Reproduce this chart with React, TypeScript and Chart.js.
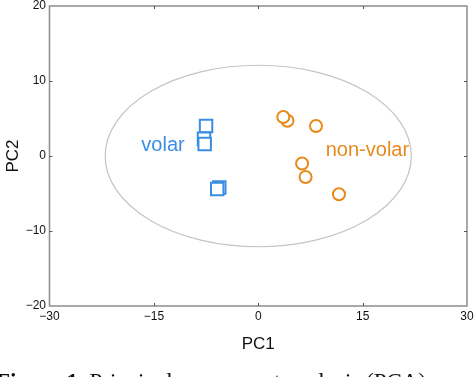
import React, { useEffect, useRef } from "react";
import { Chart, registerables } from "chart.js";

Chart.register(...registerables);

// Scores
const volarX = [-7.5, -7.8, -7.7, -5.6, -5.9];
const volarY = [4.0, 2.3, 1.6, -4.2, -4.4];
const nonVolarX = [4.2, 3.6, 8.3, 6.8, 6.3, 11.6];
const nonVolarY = [4.7, 5.2, 4.0, -2.8, -1.0, -5.1];

const xTicks = [-30, -15, 0, 15, 30];
const yTicks = [-20, -10, 0, 10, 20];

// Confidence ellipse (data units)
const ellipseCenter = [0, 0];
const ellipseRadii = [22, 12.1];

// Group labels (data coordinates of text start / baseline)
const groupLabels = [
  { text: "volar", x: -16.8, y: 0.7, color: "#3b8de3" },
  { text: "non-volar", x: 9.7, y: 0.0, color: "#e8891c" },
];

const BLUE = "#3b8de3";
const ORANGE = "#e8891c";

const fmt = (v: number) => String(v).replace("-", "\u2212");

const decorPlugin = {
  id: "decor",
  beforeDatasetsDraw(chart: any) {
    const { ctx, scales } = chart;
    const xs = scales.x, ys = scales.y;
    const cx = xs.getPixelForValue(ellipseCenter[0]);
    const cy = ys.getPixelForValue(ellipseCenter[1]);
    const rx = Math.abs(xs.getPixelForValue(ellipseCenter[0] + ellipseRadii[0]) - cx);
    const ry = Math.abs(ys.getPixelForValue(ellipseCenter[1] + ellipseRadii[1]) - cy);
    ctx.save();
    ctx.beginPath();
    ctx.ellipse(cx, cy, rx, ry, 0, 0, Math.PI * 2);
    ctx.strokeStyle = "#c4c4c4";
    ctx.lineWidth = 1.2;
    ctx.stroke();
    ctx.restore();
  },
  afterDatasetsDraw(chart: any) {
    const { ctx, scales, chartArea } = chart;
    const xs = scales.x, ys = scales.y;
    ctx.save();
    ctx.font = '20px "Liberation Sans", Arial, sans-serif';
    ctx.textBaseline = "alphabetic";
    ctx.textAlign = "left";
    for (const l of groupLabels) {
      ctx.fillStyle = l.color;
      ctx.fillText(l.text, xs.getPixelForValue(l.x), ys.getPixelForValue(l.y));
    }
    // frame
    const { left, right, top, bottom } = chartArea;
    ctx.strokeStyle = "#8c8c8c";
    ctx.lineWidth = 1.5;
    ctx.strokeRect(left, top, right - left, bottom - top);
    // inner tick marks
    ctx.strokeStyle = "#555";
    ctx.lineWidth = 1;
    const len = 3;
    ctx.beginPath();
    for (const v of xTicks.slice(1, -1)) {
      const px = Math.round(xs.getPixelForValue(v)) + 0.5;
      ctx.moveTo(px, bottom);
      ctx.lineTo(px, bottom - len);
      ctx.moveTo(px, top);
      ctx.lineTo(px, top + len);
    }
    for (const v of yTicks.slice(1, -1)) {
      const py = Math.round(ys.getPixelForValue(v)) + 0.5;
      ctx.moveTo(left, py);
      ctx.lineTo(left + len, py);
      ctx.moveTo(right, py);
      ctx.lineTo(right - len, py);
    }
    ctx.stroke();
    ctx.restore();
  },
};

export default function App() {
  const ref = useRef<HTMLCanvasElement>(null);
  useEffect(() => {
    if (!ref.current) return;
    const tickFont = { family: '"Liberation Sans", Arial, sans-serif', size: 12, lineHeight: 1 };
    const titleFont = { family: '"Liberation Sans", Arial, sans-serif', size: 17 };
    const chart = new Chart(ref.current, {
      type: "scatter",
      data: {
        datasets: [
          {
            label: "volar",
            data: volarX.map((x, i) => ({ x, y: volarY[i] })),
            pointStyle: "rect",
            pointRadius: 8.8,
            borderColor: BLUE,
            backgroundColor: "#ffffff",
            borderWidth: 2,
          },
          {
            label: "non-volar",
            data: nonVolarX.map((x, i) => ({ x, y: nonVolarY[i] })),
            pointStyle: "circle",
            pointRadius: 6,
            borderColor: ORANGE,
            backgroundColor: "#ffffff",
            borderWidth: 2,
          },
        ],
      },
      options: {
        animation: false,
        responsive: false,
        layout: { autoPadding: false, padding: { left: 0, right: 7, top: 6, bottom: 0 } },
        plugins: { legend: { display: false }, tooltip: { enabled: false } },
        scales: {
          x: {
            type: "linear",
            min: -30,
            max: 30,
            border: { display: false },
            grid: { display: false, drawTicks: false },
            afterBuildTicks: (s: any) => { s.ticks = xTicks.map((v) => ({ value: v })); },
            afterFit: (s: any) => { s.height = 71; s.paddingLeft = 0; s.paddingRight = 0; },
            ticks: { font: tickFont, color: "#111", padding: 4.5, maxRotation: 0, callback: (v: any) => fmt(v) },
            title: { display: true, text: "PC1", font: titleFont, color: "#111", padding: { top: 0, bottom: 22 } },
          },
          y: {
            type: "linear",
            min: -20,
            max: 20,
            border: { display: false },
            grid: { display: false, drawTicks: false },
            afterBuildTicks: (s: any) => { s.ticks = yTicks.map((v) => ({ value: v })); },
            afterFit: (s: any) => { s.width = 49.5; s.paddingTop = 0; s.paddingBottom = 0; },
            ticks: { font: tickFont, color: "#111", padding: 3.5, callback: (v: any) => fmt(v) },
            title: { display: true, text: "PC2", font: titleFont, color: "#111", padding: { top: 3.5, bottom: 0 } },
          },
        },
      },
      plugins: [decorPlugin],
    } as any);
    return () => chart.destroy();
  }, []);
  return (
    <div style={{ position: "fixed", left: 0, top: 0, width: 474, height: 377, overflow: "hidden", background: "#fff" }}>
      <canvas ref={ref} width={474} height={377} style={{ position: "absolute", left: 0, top: 0 }} />
      <div
        style={{
          position: "absolute",
          left: -4,
          top: 370,
          whiteSpace: "nowrap",
          fontFamily: '"Liberation Serif", "Times New Roman", serif',
          fontSize: 23,
          lineHeight: "23px",
          color: "#111",
        }}
      >
        <b>Figure 1.</b> Principal component analysis (PCA)
      </div>
    </div>
  );
}
